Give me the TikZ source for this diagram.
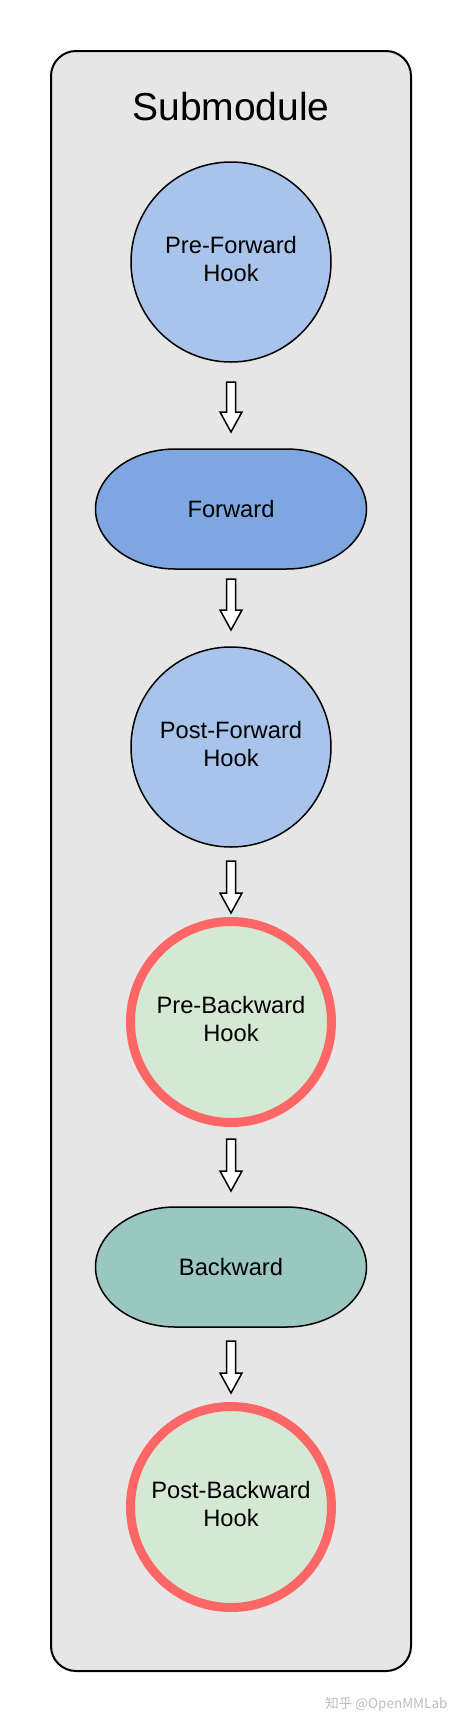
\documentclass[tikz,border=0pt]{standalone}
\usepackage{fontspec}
\setmainfont{Liberation Sans}
\newfontfamily\cjkfont{Noto Sans CJK SC}
\usetikzlibrary{calc}
\definecolor{boxgray}{HTML}{E6E6E6}
\definecolor{hookblue}{HTML}{A9C4EB}
\definecolor{fwblue}{HTML}{7EA6E0}
\definecolor{bwteal}{HTML}{9AC7BF}
\definecolor{hookgreen}{HTML}{D5E8D4}
\definecolor{hookred}{HTML}{FF6666}
\definecolor{wmgray}{HTML}{BDBDBD}
\tikzset{
  container/.style={draw=black, line width=2pt, fill=boxgray, rounded corners=25pt,
    inner sep=0pt, outer sep=0pt},
  labelfont/.style={font=\fontsize{23.7}{27.5}\selectfont, align=center, text=black},
  bluehook/.style={circle, draw=black, line width=1.5pt, fill=hookblue, inner sep=0pt,
    outer sep=0pt, minimum size=200pt, labelfont},
  redhook/.style={circle, draw=hookred, line width=9pt, fill=hookgreen, inner sep=0pt,
    outer sep=0pt, minimum size=201pt, labelfont},
  stadiumnode/.style={draw=none, inner sep=0pt, outer sep=0pt, minimum width=271pt,
    minimum height=120pt, labelfont},
  stadiumline/.style={draw=black, line width=1.5pt},
  flexarrow/.style={draw=black, fill=white, line width=1.5pt, line join=miter},
}
% two-line label, raised a little
\newcommand\hooktext[2]{\raisebox{2.5pt}{\begin{tabular}{@{}c@{}}#1\\#2\end{tabular}}}
% stadium outline around a centre coordinate: #1 centre, #2 fill colour
\newcommand\stadiumshape[2]{%
  \draw[stadiumline, fill=#2] ($(#1)+(-55.5,60)$) -- ($(#1)+(55.5,60)$)
    arc[start angle=90, end angle=-90, x radius=80, y radius=60]
    -- ($(#1)+(-55.5,-60)$)
    arc[start angle=270, end angle=90, x radius=80, y radius=60] -- cycle;}
% hollow block arrow from node #1 to node #2, gaps #3 and #4
\newcommand\flexconn[4]{%
  \coordinate (fa-s) at ($(#1.south)+(0,-#3)$);
  \coordinate (fa-e) at ($(#2.north)+(0,#4)$);
  \draw[flexarrow] ($(fa-s)+(-4.5,0)$) -- ($(fa-s)+(4.5,0)$) -- ($(fa-e)+(4.5,20)$)
    -- ($(fa-e)+(11,20)$) -- (fa-e) -- ($(fa-e)+(-11,20)$) -- ($(fa-e)+(-4.5,20)$) -- cycle;}
\begin{document}
\begin{tikzpicture}[x=1pt,y=1pt]
\useasboundingbox (0,0) rectangle (462,-1722);
\fill[white] (0,0) rectangle (462,-1722);

\node[container, minimum width=360pt, minimum height=1620pt] (sub) at (231,-861) {};
\node[anchor=base, font=\fontsize{39}{45}\selectfont] (title) at (231,-120) {Submodule};

\node[bluehook] (pf) at (231,-262) {\hooktext{Pre-Forward}{Hook}};

\coordinate (fwc) at (231,-509);
\stadiumshape{fwc}{fwblue}
\node[stadiumnode] (fw) at (fwc) {Forward};

\node[bluehook] (pof) at (231,-747) {\hooktext{Post-Forward}{Hook}};

\node[redhook] (pb) at (231,-1022) {\hooktext{Pre-Backward}{Hook}};

\coordinate (bwc) at (231,-1267);
\stadiumshape{bwc}{bwteal}
\node[stadiumnode] (bw) at (bwc) {Backward};

\node[redhook] (pob) at (231,-1507) {\hooktext{Post-Backward}{Hook}};

\flexconn{pf}{fw}{20}{17}
\flexconn{fw}{pof}{10}{17}
\flexconn{pof}{pb}{14}{8.5}
\flexconn{pb}{bw}{16.5}{16}
\flexconn{bw}{pob}{14}{13.5}

\node[anchor=base east, text=wmgray, font=\cjkfont\fontsize{13.5}{15}\selectfont] (wm)
  at (451,-1708) {知乎 @OpenMMLab};
\end{tikzpicture}
\end{document}
